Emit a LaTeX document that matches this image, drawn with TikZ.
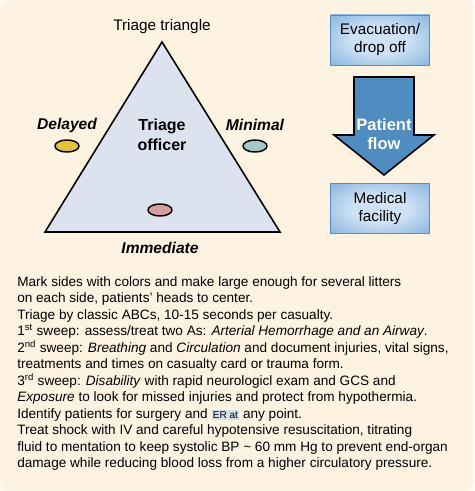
\documentclass[tikz,border=0pt]{standalone}
\usepackage{fontspec}
\setmainfont{Liberation Sans}
\usepackage{tikz}
\usetikzlibrary{positioning, shapes.geometric}
\definecolor{cream}{RGB}{253,243,224}
\definecolor{paper}{RGB}{255,250,240}
\definecolor{trifill}{RGB}{221,227,238}
\definecolor{delayedcol}{RGB}{232,195,58}
\definecolor{minimalcol}{RGB}{168,200,198}
\definecolor{immediatecol}{RGB}{212,158,158}
\definecolor{flowblue}{RGB}{79,140,192}
\definecolor{boxout}{RGB}{86,142,196}
\definecolor{boxmid}{RGB}{140,184,224}
\definecolor{boxin}{RGB}{206,226,244}
\definecolor{erblue}{RGB}{210,224,236}
\pgfdeclareradialshading{boxglow}{\pgfpoint{0bp}{0bp}}{color(0bp)=(boxin); color(14bp)=(boxin); color(34bp)=(boxmid); color(50bp)=(boxout)}
\newcommand{\erbox}[1]{{\setlength{\fboxsep}{1pt}\colorbox{erblue}{\fontsize{7.5}{8}\selectfont #1}}}
\tikzset{
tri/.style={draw, line width=1.2pt, fill=trifill, line join=miter}, % the triage triangle
title/.style={font=\fontsize{11.5}{13}\selectfont}, % text over the apex
side/.style={font=\fontsize{11.7}{13}\selectfont\bfseries\itshape}, % names of the sides
zone/.style={ellipse, draw, line width=1.1pt, minimum width=18pt, minimum height=9pt, inner sep=0pt}, % coloured markers
flowbox/.style={shading=boxglow, draw=boxout, minimum width=74.25pt, minimum height=37.5pt, align=center, font=\fontsize{11.5}{13.5}\selectfont}, % boxes on the right
flowarrow/.style={draw, line width=1.2pt, fill=flowblue, line join=miter}, % the big arrow
notes/.style={align=left, inner sep=0pt, font=\fontsize{10.2}{12.4}\selectfont}, % text block
}

\begin{document}
\begin{tikzpicture}[x=0.75pt, y=-0.75pt]
\useasboundingbox (0,0) rectangle (474,491);
\fill[paper] (0,0) rectangle (474,491);
\fill[cream, rounded corners=6pt] (0.5,0.5) rectangle (473.5,490.5);

% triangle
\coordinate (apex) at (162,42);
\coordinate (left) at (45,232);
\coordinate (right) at (280,232);
\draw[tri] (apex) -- (left) -- (right) -- cycle;
\node[title] (title) at (162,27) {Triage triangle};
\node[align=center, font=\fontsize{12}{15}\selectfont\bfseries] (officer) at (162,135) {Triage\\officer};

% sides
\node[side] (delayed) at (67,125) {Delayed};
\node[zone, fill=delayedcol, below of=delayed, node distance=15.75pt] (delayedmark) {};
\node[side] (minimal) at (255,125) {Minimal};
\node[zone, fill=minimalcol, below of=minimal, node distance=15.75pt] (minimalmark) {};
\node[side] (immediate) at (160,248) {Immediate};
\node[zone, fill=immediatecol, above of=immediate, node distance=28.5pt] (immediatemark) {};

% patient flow
\node[flowbox] (evac) at (380,40) {Evacuation/\\drop off};
\node[flowbox, below of=evac, node distance=126.4pt] (medical) {Medical\\facility};
\draw[flowarrow] (354,77) -- (414,77) -- (414,135) -- (434,135) -- (384,175) -- (334,135) -- (354,135) -- cycle;
\node[align=center, text=white, font=\fontsize{12.4}{14.25}\selectfont\bfseries] (flow) at (384,134) {Patient\\flow};

% notes
\node[notes, anchor=north west] (notes) at (17,276) {Mark sides with colors and make large enough for several litters\\
on each side, patients' heads to center.\\
Triage by classic ABCs, 10-15 seconds per casualty.\\
1\textsuperscript{st} sweep: assess/treat two As: \textit{Arterial Hemorrhage and an Airway}.\\
2\textsuperscript{nd} sweep: \textit{Breathing} and \textit{Circulation} and document injuries, vital signs,\\
treatments and times on casualty card or trauma form.\\
3\textsuperscript{rd} sweep: \textit{Disability} with rapid neurologicl exam and GCS and\\
\textit{Exposure} to look for missed injuries and protect from hypothermia.\\
Identify patients for surgery and \erbox{ER at} any point.\\
Treat shock with IV and careful hypotensive resuscitation, titrating\\
fluid to mentation to keep systolic BP \textasciitilde{} 60 mm Hg to prevent end-organ\\
damage while reducing blood loss from a higher circulatory pressure.};
\end{tikzpicture}
\end{document}
